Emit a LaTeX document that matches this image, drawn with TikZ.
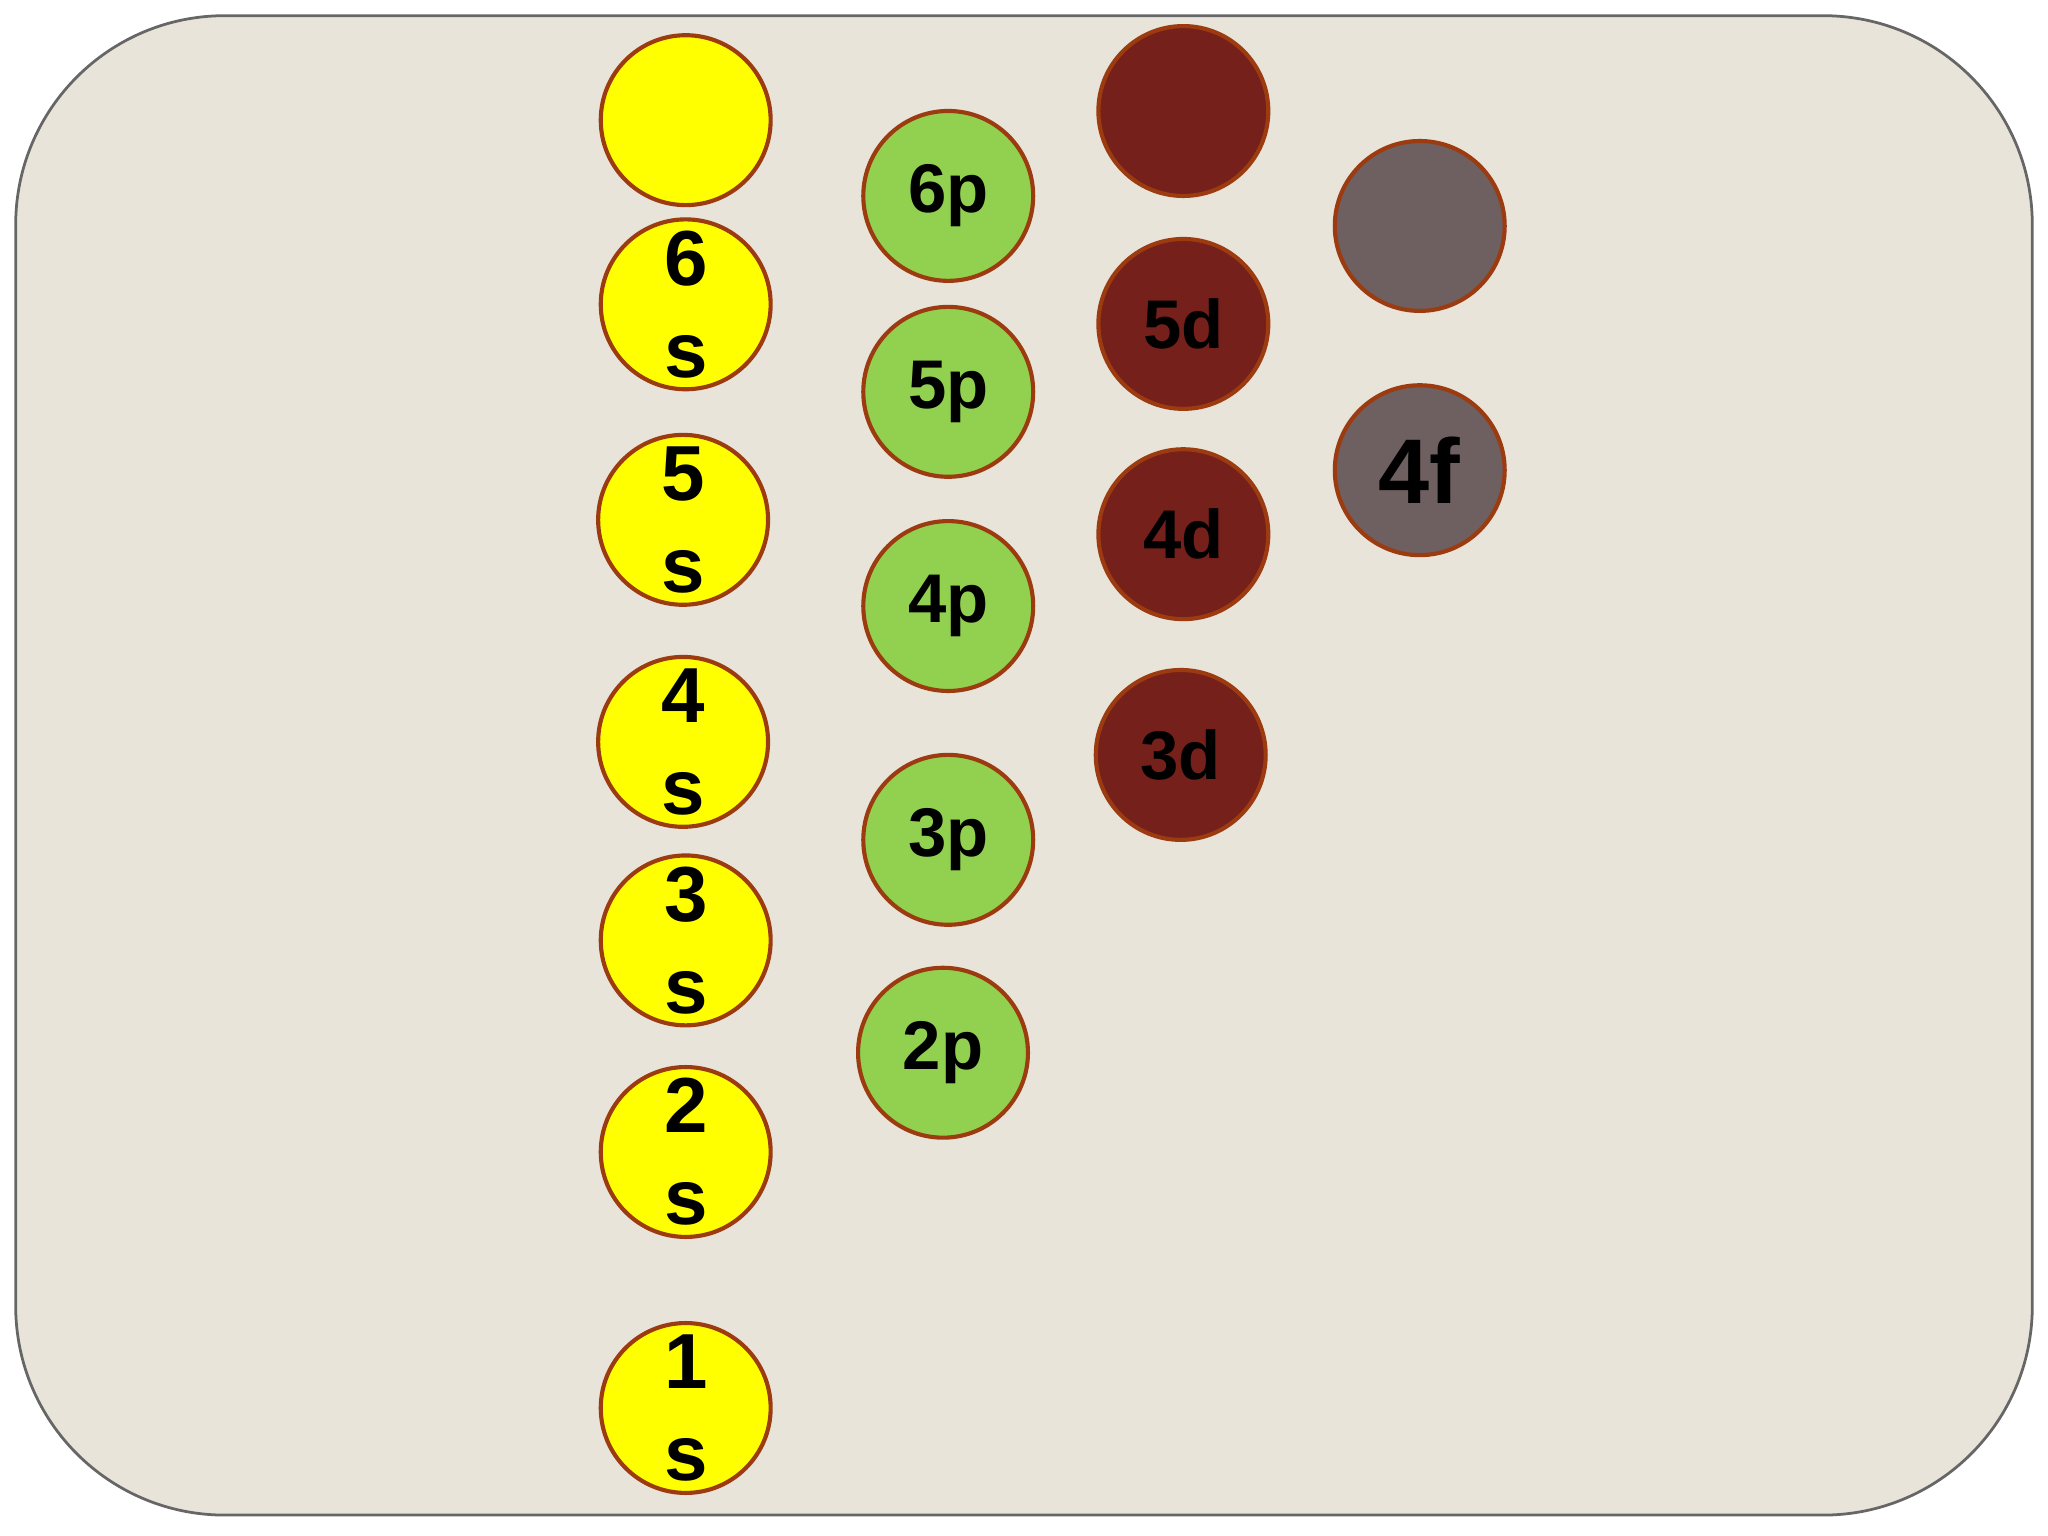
\documentclass[tikz,border=0pt]{standalone}
\usepackage{fontspec}
\setmainfont{Liberation Sans}
\usetikzlibrary{arrows.meta,backgrounds}
\definecolor{bg}{HTML}{E9E4DA}
\definecolor{ylw}{HTML}{FFFF00}
\definecolor{grn}{HTML}{92D050}
\definecolor{drd}{HTML}{75201A}
\definecolor{gry}{HTML}{6E5F60}
\definecolor{edge}{HTML}{9C3A10}
\tikzset{
  orb/.style={circle,draw=edge,line width=0.9pt,minimum size=1.3cm,inner sep=0pt,align=center,font=\bfseries\fontsize{17}{20}\selectfont},
  sorb/.style={orb,fill=ylw},
  porb/.style={orb,fill=grn,font=\bfseries\fontsize{15}{18}\selectfont},
  dorb/.style={orb,fill=drd,font=\bfseries\fontsize{15}{18}\selectfont},
  forb/.style={orb,fill=gry,font=\bfseries\fontsize{20}{24}\selectfont},
  arr/.style={draw=red,line width=2.3pt,-{Straight Barb[length=9pt,width=20pt,line width=2.3pt]}},
  tl/.style={draw=red,line width=2.3pt}
}
\begin{document}
\begin{tikzpicture}[x=0.01cm,y=-0.01cm]
\useasboundingbox (0,0) rectangle (1568,1176);
\draw[fill=bg,draw=gray!80!black,line width=0.6pt,rounded corners=1.6cm] (12,12) rectangle (1556,1160);
\node[sorb] (s7) at (525,92) {};
\node[sorb] (s6) at (525,233) {6\\s};
\node[sorb] (s5) at (523,398) {5\\s};
\node[sorb] (s4) at (523,568) {4\\s};
\node[sorb] (s3) at (525,720) {3\\s};
\node[sorb] (s2) at (525,882) {2\\s};
\node[sorb] (s1) at (525,1078) {1\\s};
\node[porb] (p6) at (726,150) {6p};
\node[porb] (p5) at (726,300) {5p};
\node[porb] (p4) at (726,464) {4p};
\node[porb] (p3) at (726,643) {3p};
\node[porb] (p2) at (722,806) {2p};
\node[dorb] (d6) at (906,85) {};
\node[dorb] (d5) at (906,248) {5d};
\node[dorb] (d4) at (906,409) {4d};
\node[dorb] (d3) at (904,578) {3d};
\node[forb] (f5) at (1087,173) {};
\node[forb] (f4) at (1087,360) {4f};
\coordinate (t2p) at (842,882);
\coordinate (t3p) at (836,714);
\coordinate (t3d) at (1032,638);
\coordinate (t4d) at (1025,481);
\coordinate (t4f) at (1213,424);
\begin{scope}[on background layer]
\draw[arr] (s1.center) -- (s2);
\draw[arr] (t2p) -- (s3);
\draw[arr] (t3p) -- (s4);
\draw[arr] (t3d) -- (p4);
\draw[arr] (p4.center) -- (s5);
\draw[arr] (t4d) -- (p5);
\draw[arr] (p5.center) -- (s6);
\draw[arr] (t4f) -- (d5);
\draw[arr] (d5.center) -- (p6);
\end{scope}
\end{tikzpicture}
\end{document}
